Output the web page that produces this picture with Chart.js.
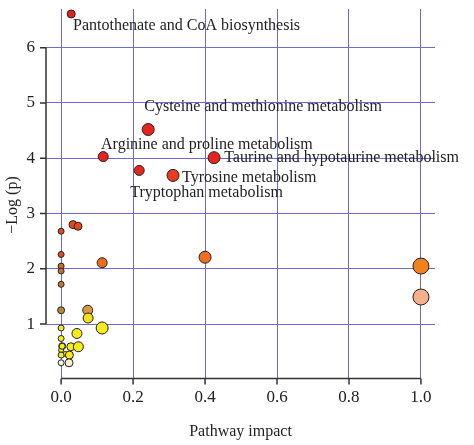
<!DOCTYPE html>
<html><head><meta charset="utf-8">
<script src="https://cdn.jsdelivr.net/npm/chart.js@4"></script>
<style>html,body{margin:0;padding:0;background:#fff}#w{width:474px;height:445px}</style>
</head><body><div id="w"><canvas id="c"></canvas></div>
<script>
const impact = [0.028,0.242,0.117,0.217,0.311,0.425,0.40,1.0,1.0,0.114,0.033,0.047,0,0,0,0,0,0,0.074,0.075,0.114,0.044,0,0,0.003,0.027,0.048,0,0.012,0.023,0,0.003,0.022,0];
const logp   = [6.61,4.52,4.03,3.78,3.69,4.01,2.21,2.05,1.49,2.11,2.80,2.77,2.68,2.26,2.05,1.96,1.72,1.25,1.25,1.11,0.93,0.83,0.93,0.74,0.60,0.59,0.59,0.53,0.46,0.44,0.44,0.60,0.30,0.30];
const radius = [4,6,5,5,6,6,6,8,8,5,4,4,3,3,3,3,3,3.5,5,5,6,5,3,3,3.5,4,5,2.5,2.5,4,3,3,4,3];
const colors = ['#e8221c','#e8221c','#e8221c','#e8261c','#ec3a1c','#e8221c','#ee6e1c','#f2801c','#f5b08a','#ee6a1c','#e64a1c','#e64a1c','#e04a24','#dc4a2a','#c8702a','#c8702a','#c0782a','#b8882e','#d89a3a','#f2e01c','#f5ec1c','#f5ec1c','#f5ec1c','#f5ec1c','#f5ec1c','#f5ec1c','#f5ec1c','#f5ec1c','#f5ec1c','#f5ec1c','#f5ec1c','#f5ec1c','#f5f0d8','#f8f5e8'];
const labelText = ['Pantothenate and CoA biosynthesis','Cysteine and methionine metabolism','Arginine and proline metabolism','Taurine and hypotaurine metabolism','Tyrosine metabolism','Tryptophan metabolism'];
const labelX = [0.033,0.231,0.111,0.453,0.336,0.192];
const labelY = [6.40,4.93,4.24,4.0,3.65,3.37];
const xTicks = [0,0.2,0.4,0.6,0.8,1.0];
const yTicks = [1,2,3,4,5,6];

const pts = impact.map((x,i)=>({x, y: logp[i]}));
const font = '"Liberation Serif", serif';
const deco = {
  id:'deco',
  afterDatasetsDraw(ch){
    const c=ch.ctx, xs=ch.scales.x, ys=ch.scales.y;
    c.save();
    c.strokeStyle='#333'; c.lineWidth=1.5;
    const xa=ys.getPixelForValue(ys.min)+0.5, ya=xs.getPixelForValue(xs.min);
    c.beginPath(); c.moveTo(xs.getPixelForValue(0),xa); c.lineTo(xs.getPixelForValue(1),xa);
    xTicks.forEach(t=>{const p=xs.getPixelForValue(t);c.moveTo(p,xa);c.lineTo(p,xa+6);});
    c.moveTo(ya,ys.getPixelForValue(1)); c.lineTo(ya,ys.getPixelForValue(6));
    yTicks.forEach(t=>{const p=ys.getPixelForValue(t);c.moveTo(ya,p);c.lineTo(ya-6,p);});
    c.stroke();
    c.fillStyle='#222'; c.font='17px '+font;
    c.textAlign='center'; c.textBaseline='top';
    xTicks.forEach(t=>c.fillText(t.toFixed(1),xs.getPixelForValue(t),xa+11));
    c.textAlign='right'; c.textBaseline='middle';
    yTicks.forEach(t=>c.fillText(String(t),ya-11,ys.getPixelForValue(t)));
    c.textAlign='left'; c.font='16px '+font;
    labelText.forEach((s,i)=>c.fillText(s,xs.getPixelForValue(labelX[i]),ys.getPixelForValue(labelY[i])));
    c.font='16px '+font; c.textAlign='center';
    c.fillText('Pathway impact',(xs.left+xs.right)/2,432);
    c.translate(13,205); c.rotate(-Math.PI/2);
    c.fillText('\u2212Log (p)',0,0);
    c.restore();
  }
};
new Chart(document.getElementById('c'),{
  type:'scatter',
  data:{datasets:[{data:pts,backgroundColor:colors,borderColor:'#222',borderWidth:1,pointRadius:radius,pointHoverRadius:radius}]},
  options:{responsive:true,maintainAspectRatio:false,animation:false,
    layout:{padding:{left:46,right:39,top:0,bottom:67}},
    plugins:{legend:{display:false},tooltip:{enabled:false}},
    scales:{
      x:{type:'linear',min:-0.042,max:1.039,afterBuildTicks:a=>{a.ticks=xTicks.map(v=>({value:v}))},
        ticks:{display:false},border:{display:false},grid:{color:'#6a6ad0',lineWidth:1,drawTicks:false}},
      y:{type:'linear',min:0.025,max:6.70,afterBuildTicks:a=>{a.ticks=yTicks.map(v=>({value:v}))},
        ticks:{display:false},border:{display:false},grid:{color:'#6a6ad0',lineWidth:1,drawTicks:false}}
    }},
  plugins:[deco]
});
</script></body></html>
